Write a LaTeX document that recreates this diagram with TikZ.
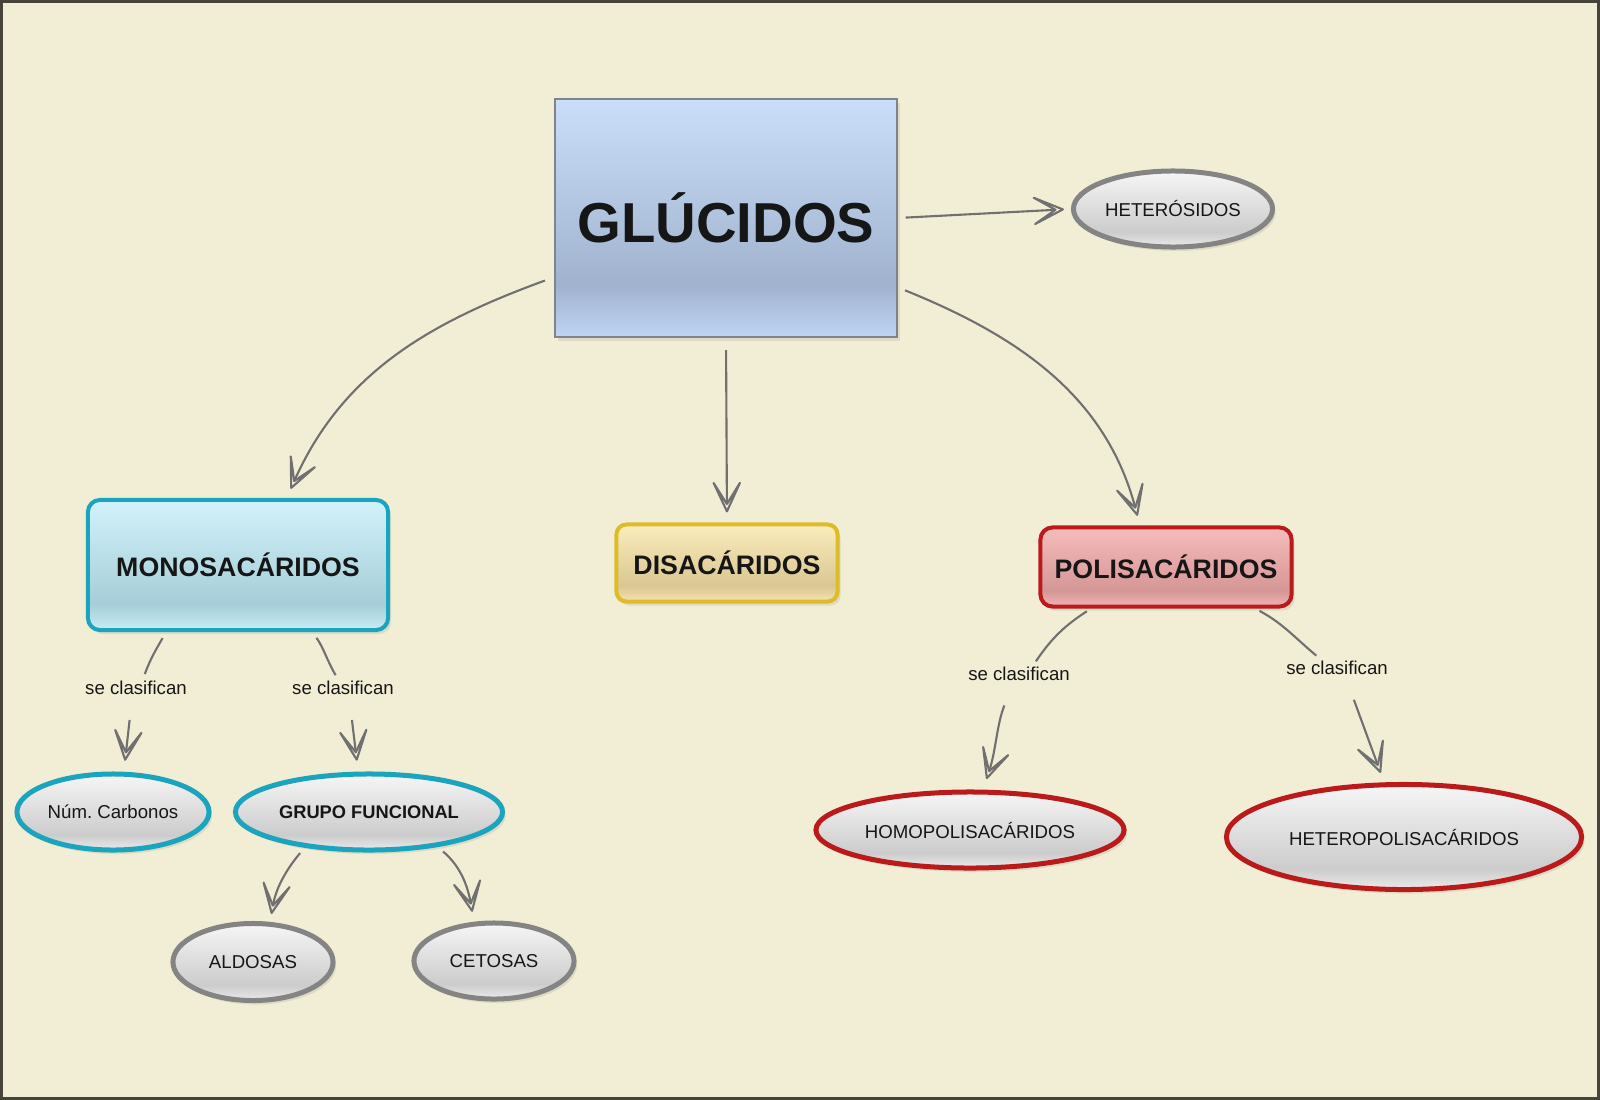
\documentclass[tikz,border=0pt]{standalone}
\usepackage{fontspec}
\setmainfont{Liberation Sans}
\usetikzlibrary{shapes.geometric,arrows.meta,shadows}

\definecolor{bgc}{RGB}{242,238,214}
\definecolor{framec}{RGB}{70,68,58}
\definecolor{linec}{RGB}{112,112,112}
\definecolor{txtc}{RGB}{22,22,22}
\definecolor{gluTop}{RGB}{202,222,250}
\definecolor{gluDark}{RGB}{160,178,206}
\definecolor{gluLow}{RGB}{192,212,244}
\definecolor{gluline}{RGB}{128,130,140}
\definecolor{monoTop}{RGB}{210,242,251}
\definecolor{monoDark}{RGB}{166,206,216}
\definecolor{monoLow}{RGB}{202,236,246}
\definecolor{cyanline}{RGB}{27,164,190}
\definecolor{disTop}{RGB}{250,237,188}
\definecolor{disDark}{RGB}{218,198,146}
\definecolor{disLow}{RGB}{244,229,178}
\definecolor{disline}{RGB}{222,188,40}
\definecolor{poliTop}{RGB}{246,188,188}
\definecolor{poliDark}{RGB}{214,150,150}
\definecolor{poliLow}{RGB}{240,180,180}
\definecolor{redline}{RGB}{186,26,26}
\definecolor{ovalTop}{RGB}{246,246,246}
\definecolor{ovalDark}{RGB}{204,204,204}
\definecolor{ovalLow}{RGB}{234,234,234}
\definecolor{grayline}{RGB}{132,132,132}

\pgfdeclareverticalshading{glushade}{100bp}{color(0bp)=(gluLow); color(25bp)=(gluLow); color(36bp)=(gluDark); color(75bp)=(gluTop); color(100bp)=(gluTop)}
\pgfdeclareverticalshading{monoshade}{100bp}{color(0bp)=(monoLow); color(25bp)=(monoLow); color(35bp)=(monoDark); color(75bp)=(monoTop); color(100bp)=(monoTop)}
\pgfdeclareverticalshading{disshade}{100bp}{color(0bp)=(disLow); color(25bp)=(disLow); color(35bp)=(disDark); color(75bp)=(disTop); color(100bp)=(disTop)}
\pgfdeclareverticalshading{polishade}{100bp}{color(0bp)=(poliLow); color(25bp)=(poliLow); color(35bp)=(poliDark); color(75bp)=(poliTop); color(100bp)=(poliTop)}
\pgfdeclareverticalshading{ovalshade}{100bp}{color(0bp)=(ovalLow); color(25bp)=(ovalLow); color(35bp)=(ovalDark); color(75bp)=(ovalTop); color(100bp)=(ovalTop)}

\begin{document}
\begin{tikzpicture}[x=0.01cm,y=0.01cm,
  conn/.style={color=linec,line width=0.6pt,arrows={-Stealth[open,round,length=13pt,width=12pt,inset=9.6pt]}},
  link/.style={color=linec,line width=0.6pt},
  lab/.style={text=txtc,font=\fontsize{5.3}{6}\selectfont,inner sep=1pt},
  soft/.style={drop shadow={shadow xshift=0.3mm,shadow yshift=-0.4mm,opacity=0.18}},
  box/.style={soft,shade,text=txtc,font=\fontsize{7.6}{9}\selectfont\bfseries,line width=0.4mm,rounded corners=1.2mm,inner sep=0pt},
  oval/.style={ellipse,soft,shade,shading=ovalshade,text=txtc,font=\fontsize{5.3}{6}\selectfont,line width=0.5mm,inner sep=0pt}]

\useasboundingbox (0,0) rectangle (1600,-1100);
\fill[bgc] (0,0) rectangle (1600,-1100);
\draw[color=framec,line width=0.3mm] (1.5,-1.5) rectangle (1598.5,-1098.5);

% main concept
\node[soft,shade,shading=glushade,draw=gluline,line width=0.2mm,minimum width=3.41cm,minimum height=2.38cm,inner sep=0pt,text=txtc,font=\fontsize{16}{19}\selectfont\bfseries] (glu) at (726,-218) {GLÚCIDOS};
\node[oval,draw=grayline,minimum width=1.99cm,minimum height=0.76cm] (het) at (1173,-209) {HETERÓSIDOS};

% second level
\node[box,shading=monoshade,draw=cyanline,minimum width=3.00cm,minimum height=1.30cm] (mono) at (238,-565) {MONOSACÁRIDOS};
\node[box,shading=disshade,draw=disline,minimum width=2.21cm,minimum height=0.77cm,rounded corners=1mm] (dis) at (727,-563) {DISACÁRIDOS};
\node[box,shading=polishade,draw=redline,minimum width=2.51cm,minimum height=0.79cm] (poli) at (1166,-567) {POLISACÁRIDOS};

% linking words
\node[lab] (l1) at (136,-688) {se clasifican};
\node[lab] (l2) at (343,-688) {se clasifican};
\node[lab] (l3) at (1019,-674) {se clasifican};
\node[lab] (l4) at (1337,-668) {se clasifican};

% leaves
\node[oval,draw=cyanline,minimum width=1.92cm,minimum height=0.76cm] (num) at (113,-812) {Núm.\ Carbonos};
\node[oval,draw=cyanline,minimum width=2.67cm,minimum height=0.76cm,font=\fontsize{5.2}{6}\selectfont\bfseries] (grupo) at (369,-812) {GRUPO FUNCIONAL};
\node[oval,draw=grayline,minimum width=1.60cm,minimum height=0.77cm] (ald) at (253,-962) {ALDOSAS};
\node[oval,draw=grayline,minimum width=1.60cm,minimum height=0.76cm] (cet) at (494,-961) {CETOSAS};
\node[oval,draw=redline,minimum width=3.08cm,minimum height=0.76cm] (homo) at (970,-830) {HOMOPOLISACÁRIDOS};
\node[oval,draw=redline,minimum width=3.55cm,minimum height=1.05cm] (hetp) at (1404,-837) {HETEROPOLISACÁRIDOS};

% connectors
\draw[conn,shorten <=0.8mm,shorten >=0.7mm] (glu.east) -- (het.west);
\draw[conn,shorten <=1.2mm,shorten >=1mm] (glu.south) -- (dis.north);
\draw[conn,shorten <=1mm,shorten >=1mm] (glu.199) to[out=200,in=66] (mono.54);
\draw[conn,shorten <=0.8mm,shorten >=1mm] (glu.-22) to[out=-22,in=105] (poli.122);

\draw[link,shorten <=0.7mm,shorten >=0.3mm] (mono.223) to[out=240,in=70] (l1.55);
\draw[conn,shorten <=2.1mm,shorten >=1.1mm] (l1.250) -- (num.75);
\draw[link,shorten <=0.7mm,shorten >=0.2mm] (mono.-42) to[out=-55,in=120] (l2.120);
\draw[conn,shorten <=2.1mm,shorten >=1.1mm] (l2.-60) -- (grupo.105);
\draw[conn,shorten <=0.7mm,shorten >=0.8mm] (grupo.209) to[out=230,in=80] (ald.67);
\draw[conn,shorten <=0.7mm,shorten >=1mm] (grupo.-27) to[out=-40,in=100] (cet.117);

\draw[link,shorten <=0.5mm,shorten >=0.2mm] (poli.209) to[out=213,in=56] (l3.35);
\draw[conn,shorten <=2.2mm,shorten >=1.1mm] (l3.240) to[out=248,in=72] (homo.72);
\draw[link,shorten <=0.5mm,shorten >=0.2mm] (poli.-25) to[out=-28,in=140] (l4.150);
\draw[conn,shorten <=2.2mm,shorten >=1mm] (l4.-50) -- (hetp.110);

\end{tikzpicture}
\end{document}
